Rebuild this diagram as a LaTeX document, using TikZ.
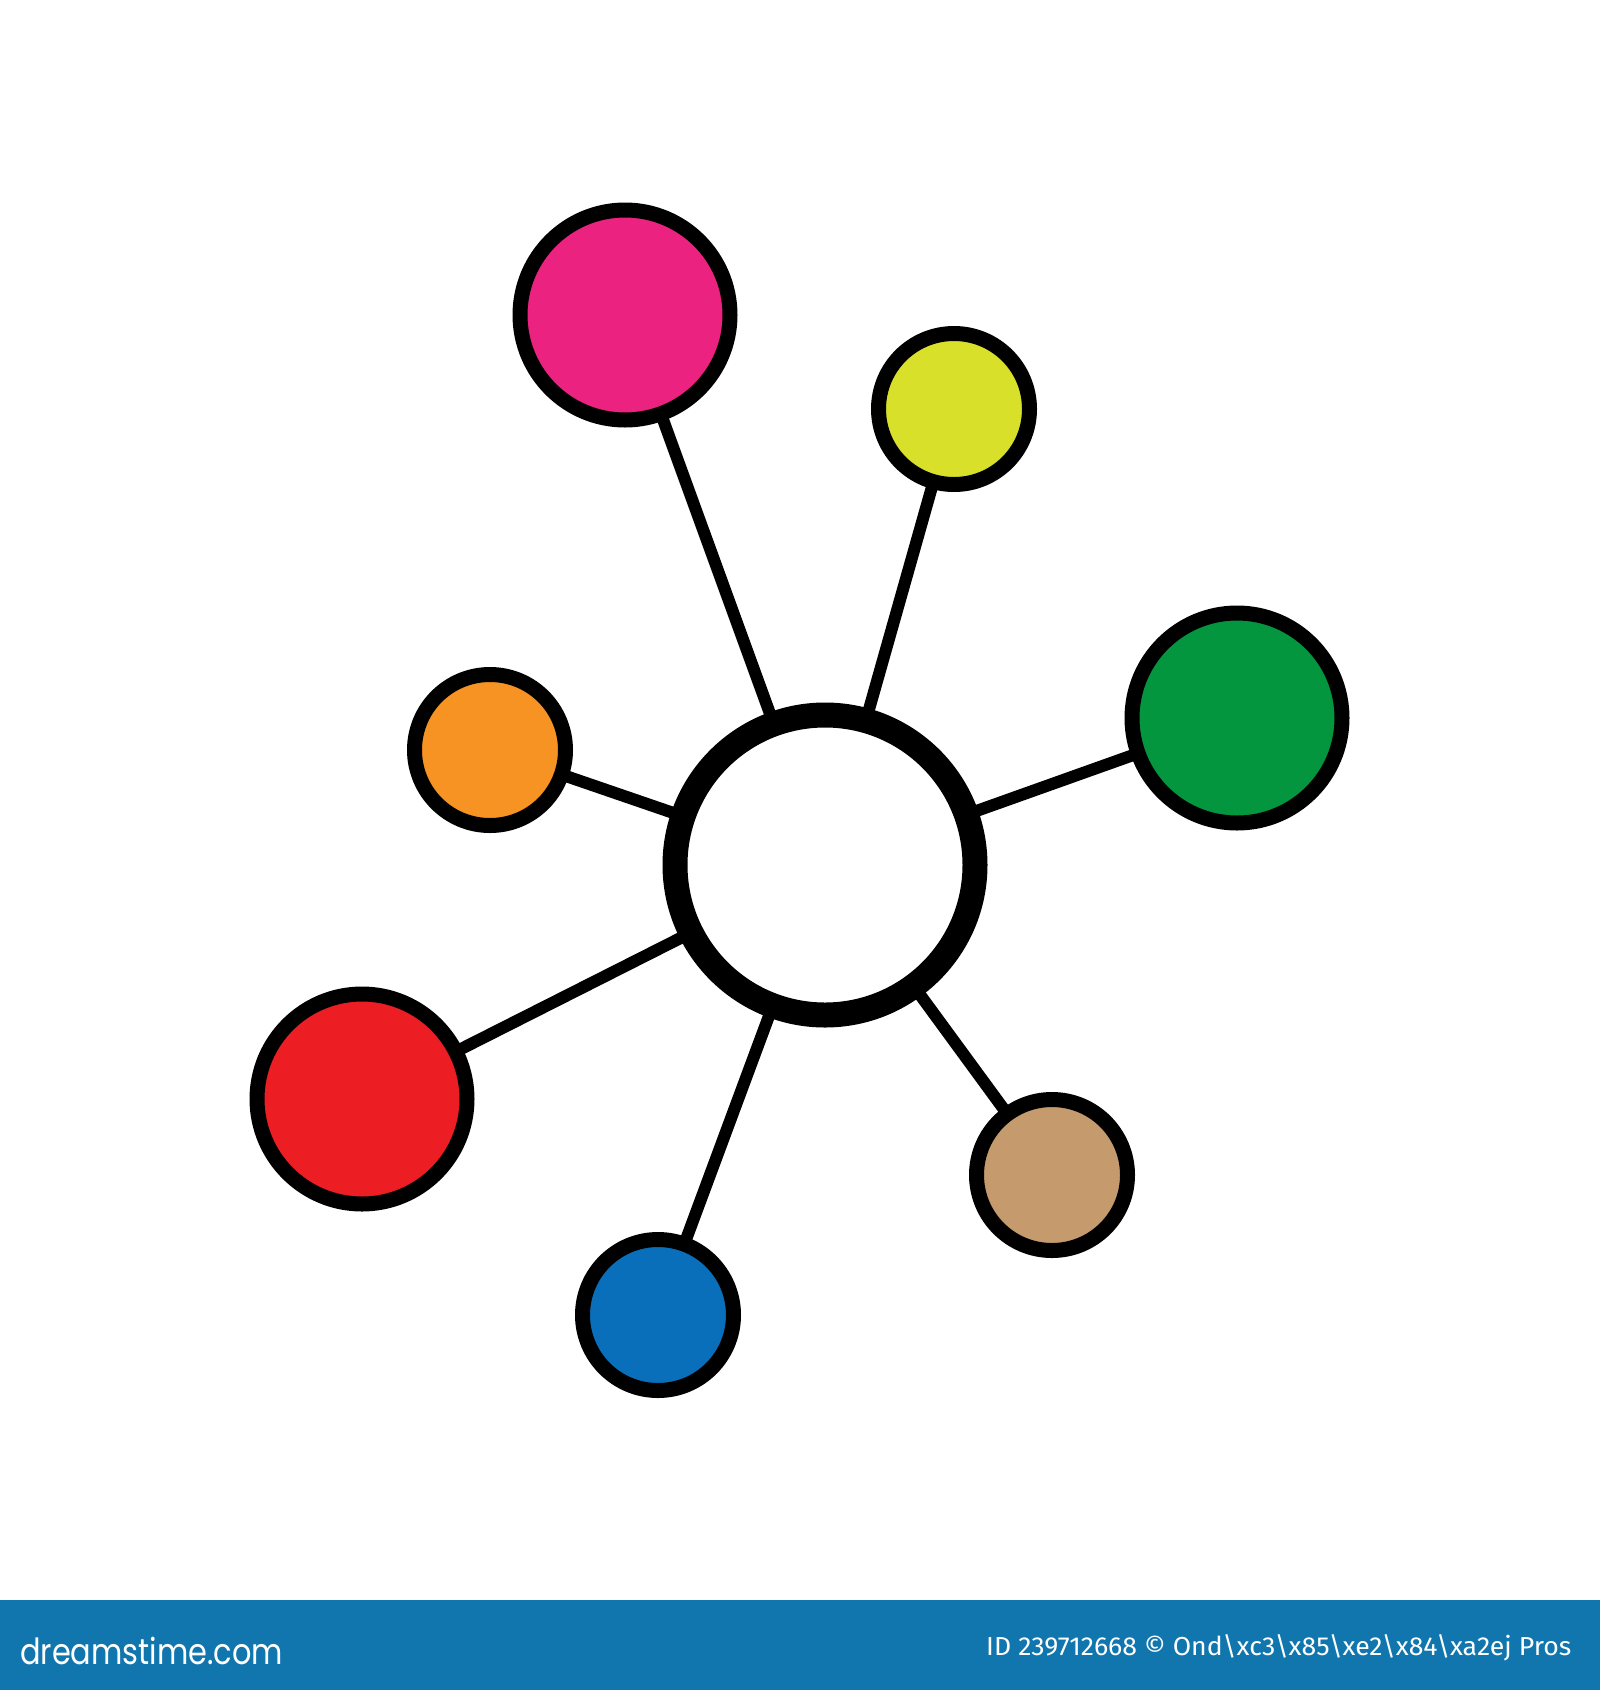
\documentclass[tikz,border=0pt]{standalone}
\usepackage{fontspec}
\usepackage{graphicx}
\newfontfamily\logofont{Poppins}
\newfontfamily\idfont{Fira Sans}

\definecolor{rose}{HTML}{EC2280}
\definecolor{jaune}{HTML}{D8E02A}
\definecolor{vert}{HTML}{03963F}
\definecolor{orange}{HTML}{F69322}
\definecolor{rouge}{HTML}{EC1E24}
\definecolor{bleu}{HTML}{0A6FBA}
\definecolor{beige}{HTML}{C59A6C}
\definecolor{bandeau}{HTML}{1176AE}

\tikzset{
  bulle/.style={circle, draw=black, line width=15pt, inner sep=0pt, minimum size=#1},
  lien/.style={line width=12pt, shorten <=-3pt, shorten >=-3pt}
}

\begin{document}
\begin{tikzpicture}[x=1pt, y=-1pt]

\useasboundingbox (0,0) rectangle (1600,1690);
\fill[white] (0,0) rectangle (1600,1690);

% Le nœud central
\node[circle, draw=black, line width=25pt, fill=white, inner sep=0pt, minimum size=300pt] (centre) at (825,865) {};

% Les nœuds autour (satellites)
\foreach \n/\px/\py/\d in {rose/625/315/210, jaune/954/409/151, vert/1237/718/210,
  orange/490/750/151, rouge/362/1099/210, bleu/658/1315/151, beige/1052/1175/151}
\node[bulle=\d pt, fill=\n] (\n) at (\px,\py) {};

% Les connexions vers le centre
\foreach \n in {rose, jaune, vert, orange, rouge, bleu, beige}
\draw[lien] (centre) -- (\n);

% Le bandeau du bas
\fill[bandeau] (0,1600) rectangle (1600,1690);
\node[anchor=base west, inner sep=0pt, text=white] (logo) at (20,1664)
  {\resizebox{263pt}{\height}{\logofont\fontsize{36}{36}\selectfont dreamstime.com}};
\node[anchor=base west, inner sep=0pt, text=white] (ident) at (986,1655)
  {\resizebox{585pt}{\height}{\idfont\fontsize{26}{26}\selectfont ID 239712668 © Ond\textbackslash xc3\textbackslash x85\textbackslash xe2\textbackslash x84\textbackslash xa2ej Pros}};

\end{tikzpicture}
\end{document}
